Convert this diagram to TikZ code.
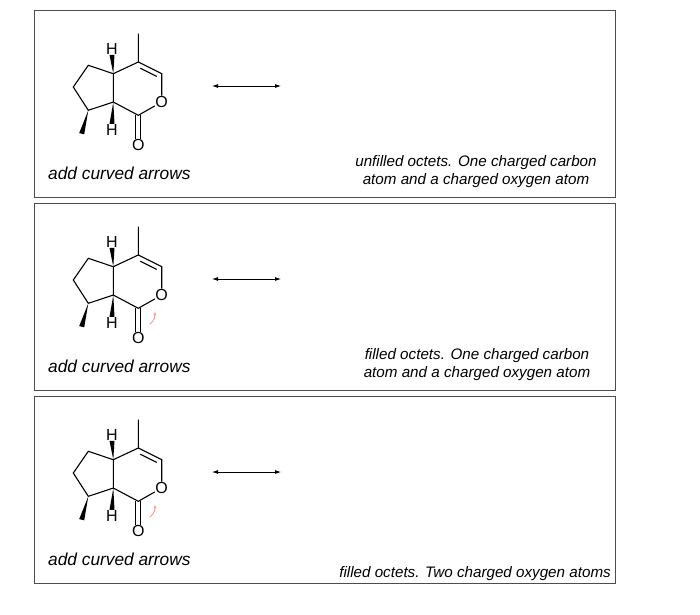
\documentclass[tikz,border=0pt]{standalone}
\usepackage{fontspec}
\setmainfont{Liberation Sans}
\usetikzlibrary{arrows.meta,calc}
\tikzset{
 panel/.style={draw=black!70,line width=1pt},
 bond/.style={line width=1.1pt},
 lbl/.style={font=\itshape\fontsize{17.3}{19}\selectfont,inner sep=0pt},
 lbr/.style={font=\itshape\fontsize{15.2}{18}\selectfont,inner sep=0pt},
 atom/.style={font=\fontsize{16}{16}\selectfont,inner sep=0.5pt,fill=white},
 reso/.style={{Latex[length=6pt,width=4pt]}-{Latex[length=6pt,width=4pt]},line width=0.8pt},
 pink/.style={draw=red!45,line width=0.8pt,-{Stealth[length=3.5pt]}},
 pics/mol/.style={code={
  \coordinate (-ft) at (113.3,73.7);
  \coordinate (-fb) at (113.3,102);
  \coordinate (-c4) at (138.3,62);
  \coordinate (-me) at (138.3,33.7);
  \coordinate (-c3) at (161.7,73.7);
  \coordinate (-c1) at (138.3,115.3);
  \coordinate (-a) at (88.3,65.3);
  \coordinate (-b) at (73.3,87);
  \coordinate (-c) at (88.3,110.3);
  \coordinate (-w) at (81.7,133.7);
  \node[atom] (-o) at (161.7,102) {O};
  \node[atom] (-oc) at (138.3,145) {O};
  \node[atom] (-ht) at (112,48.7) {H};
  \node[atom] (-hb) at (112,130) {H};
  \draw[bond] (-ft)--(-c4)--(-me);
  \draw[bond] (-c4)--(-c3)--(-o)--(-c1)--(-fb)--(-ft);
  \draw[bond] ($(-c4)!0.15!(-c3)+(-1.5,4.5)$)--($(-c4)!0.85!(-c3)+(-1.5,4.5)$);
  \draw[bond] ([xshift=-2.5pt]-c1)--([xshift=-2.5pt]-oc.north);
  \draw[bond] ([xshift=2.5pt]-c1)--([xshift=2.5pt]-oc.north);
  \draw[bond] (-ft)--(-a)--(-b)--(-c)--(-fb);
  \fill (-c)--($(-w)+(2.5,0.6)$)--($(-w)+(-2.5,-0.6)$)--cycle;
  \fill (-ft)--($(-ht.south)+(2.5,0)$)--($(-ht.south)+(-2.5,0)$)--cycle;
  \fill (-fb)--($(-hb.north)+(2.5,0)$)--($(-hb.north)+(-2.5,0)$)--cycle;
 }}
}
\begin{document}
\begin{tikzpicture}[x=1pt,y=-1pt]
\useasboundingbox (0,0) rectangle (700,614);
\foreach \i/\oy in {1/0,2/193,3/386}{
 \draw[panel] (34,10+\oy) rectangle (615,197+\oy);
 \pic (m\i) at (0,\oy) {mol};
 \coordinate (l\i) at (212,86+\oy);
 \coordinate (r\i) at (281,86+\oy);
 \draw[reso] (l\i)--(r\i);
 \node[lbl,anchor=west] (t\i) at (48,173+\oy) {add curved arrows};
}
\node[lbr,align=center] (d1) at (476,172) {unfilled octets. One charged carbon\\atom and a charged oxygen atom};
\node[lbr,align=center] (d2) at (477,365) {filled octets. One charged carbon\\atom and a charged oxygen atom};
\node[lbr,anchor=east] (d3) at (611,574) {filled octets. Two charged oxygen atoms};
\draw[pink] (150,324) .. controls (154,321) and (155,317) .. (155,312);
\draw[pink] (150,517) .. controls (154,514) and (155,510) .. (155,505);
\end{tikzpicture}
\end{document}
